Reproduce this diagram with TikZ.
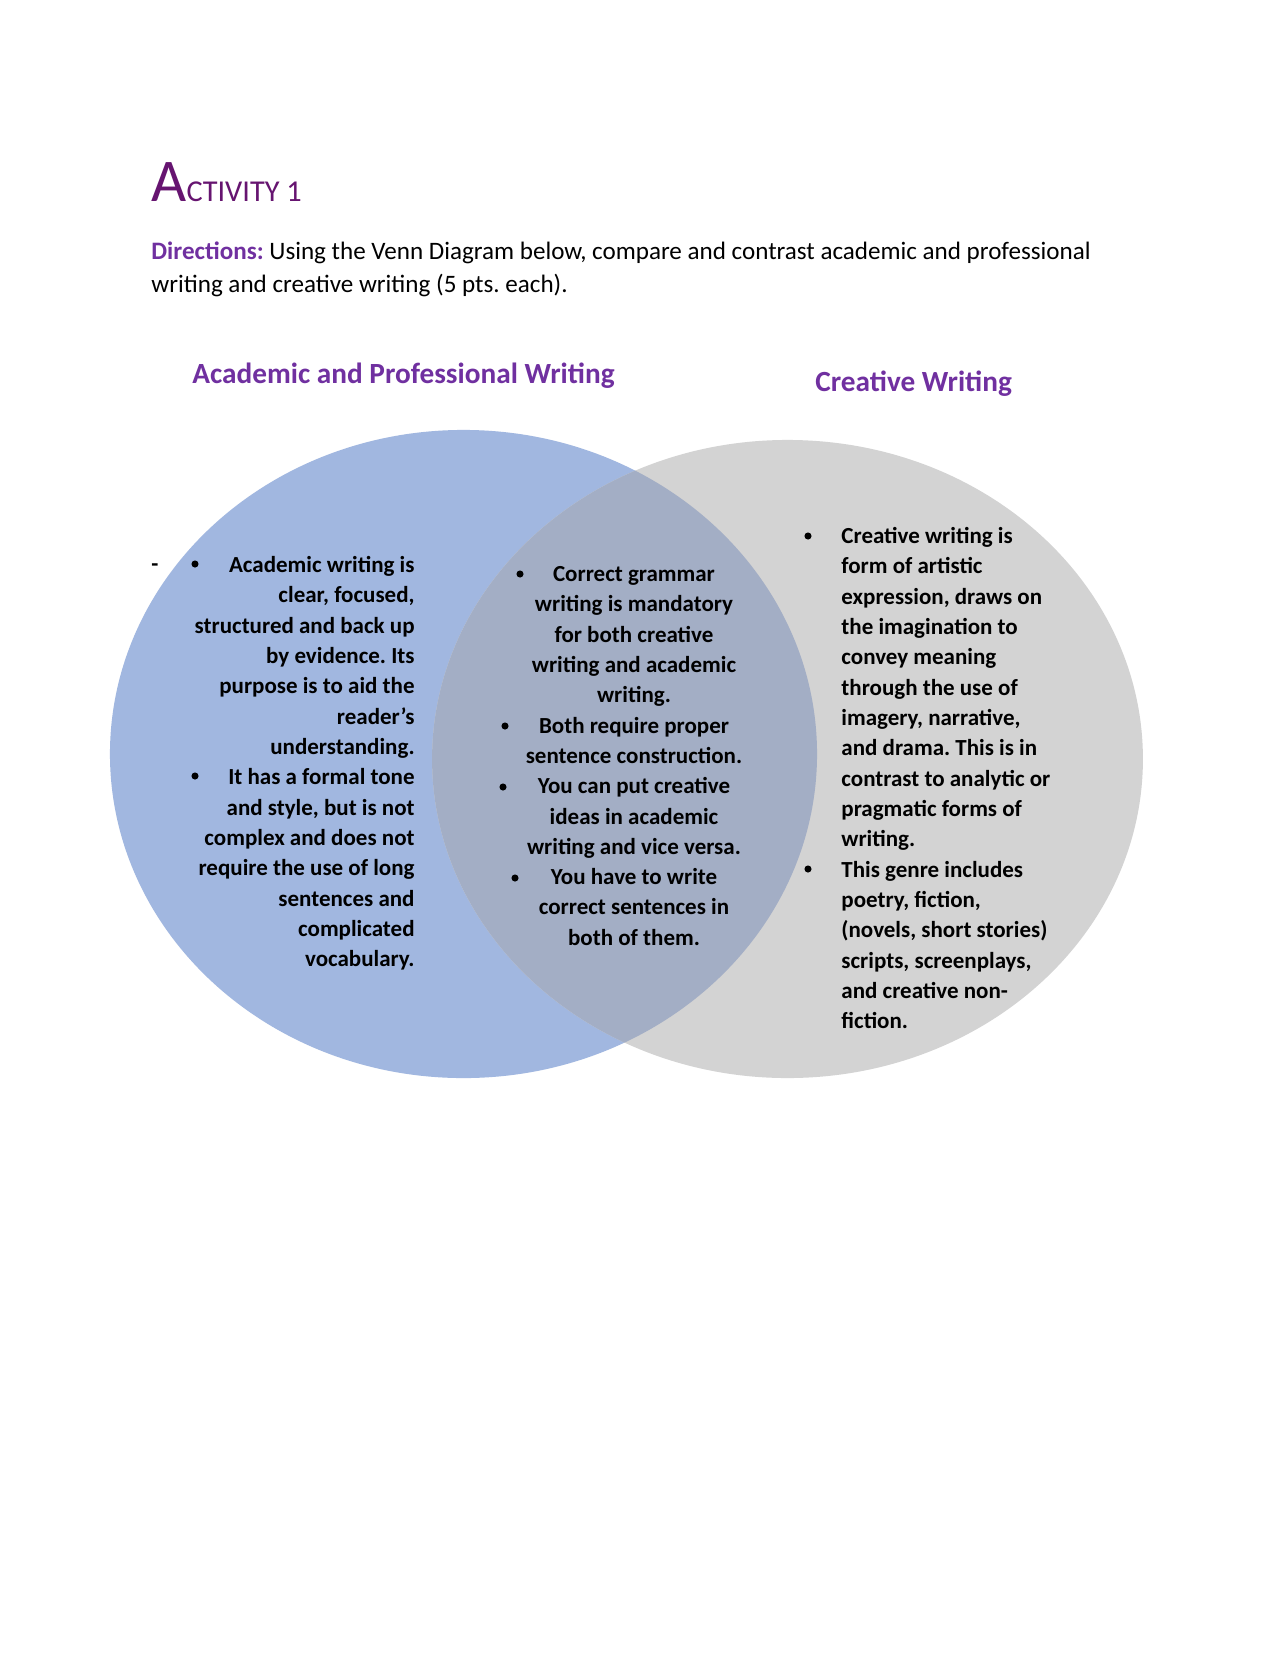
\documentclass[tikz,border=0pt]{standalone}
\usepackage{fontspec}
\setmainfont{Carlito}
\frenchspacing
\definecolor{vblue}{RGB}{161,183,224}
\definecolor{vgray}{RGB}{211,211,211}
\definecolor{vmix}{RGB}{163,174,197}
\definecolor{titlepurple}{RGB}{102,20,112}
\definecolor{headpurple}{RGB}{112,48,160}
\begin{document}
\begin{tikzpicture}[x=0.4783pt,y=-0.4783pt,
  body/.style={inner sep=0pt,font=\fontsize{11}{14.5}\selectfont\bfseries},
  heading/.style={inner sep=0pt,text=headpurple,font=\fontsize{14}{17}\selectfont\bfseries},
  bul/.style={circle,fill=black,inner sep=0pt,minimum size=3.4pt}]
\useasboundingbox (0,0) rectangle (1280,1656);
\fill[white] (0,0) rectangle (1280,1656);
% ellipses
\fill[vblue] (463.5,754) ellipse [x radius=169.1pt, y radius=155.0pt];
\fill[vgray] (787.5,759) ellipse [x radius=170.0pt, y radius=152.6pt];
\begin{scope}
  \clip (463.5,754) ellipse [x radius=169.1pt, y radius=155.0pt];
  \fill[vmix] (787.5,759) ellipse [x radius=170.0pt, y radius=152.6pt];
\end{scope}
% title
\node[anchor=base west,inner sep=0pt,text=titlepurple] (title) at (151,201)
  {{\fontsize{29}{30}\selectfont A}{\fontsize{14.5}{16}\selectfont CTIVITY 1}};
\node[anchor=base west,inner sep=0pt,font=\fontsize{12}{15}\selectfont] (dir1) at (151,259)
  {{\bfseries\color{headpurple}Directions:} Using the Venn Diagram below, compare and contrast academic and professional};
\node[anchor=base west,inner sep=0pt,font=\fontsize{12}{15}\selectfont] (dir2) at (151,292)
  {writing and creative writing (5 pts. each).};
% headings
\node[heading,anchor=base west] (hA) at (192,383) {Academic and Professional Writing};
\node[heading,anchor=base west] (hC) at (815,391) {Creative Writing};
% left block
\node[body,anchor=base west] (dash) at (151,571) {-};
\node[body,anchor=north east,align=right] (left) at (415,556) {Academic writing is\\clear, focused,\\structured and back up\\by evidence. Its\\purpose is to aid the\\reader’s\\understanding.\\It has a formal tone\\and style, but is not\\complex and does not\\require the use of long\\sentences and\\complicated\\vocabulary.};
\node[bul] (bl1) at (195,564) {};
\node[bul] (bl2) at (195,776) {};
% middle block
\node[body,anchor=north,align=center] (mid) at (634,566) {Correct grammar\\writing is mandatory\\for both creative\\writing and academic\\writing.\\Both require proper\\sentence construction.\\You can put creative\\ideas in academic\\writing and vice versa.\\You have to write\\correct sentences in\\both of them.};
\node[bul] (bm1) at (520,574) {};
\node[bul] (bm2) at (505,726) {};
\node[bul] (bm3) at (503,787) {};
\node[bul] (bm4) at (515,878) {};
% right block
\node[body,anchor=north west,align=left] (right) at (841,527) {Creative writing is\\form of artistic\\expression, draws on\\the imagination to\\convey meaning\\through the use of\\imagery, narrative,\\and drama. This is in\\contrast to analytic or\\pragmatic forms of\\writing.\\This genre includes\\poetry, fiction,\\(novels, short stories)\\scripts, screenplays,\\and creative non-\\fiction.};
\node[bul] (br1) at (808,536) {};
\node[bul] (br2) at (808,869) {};
\end{tikzpicture}
\end{document}
